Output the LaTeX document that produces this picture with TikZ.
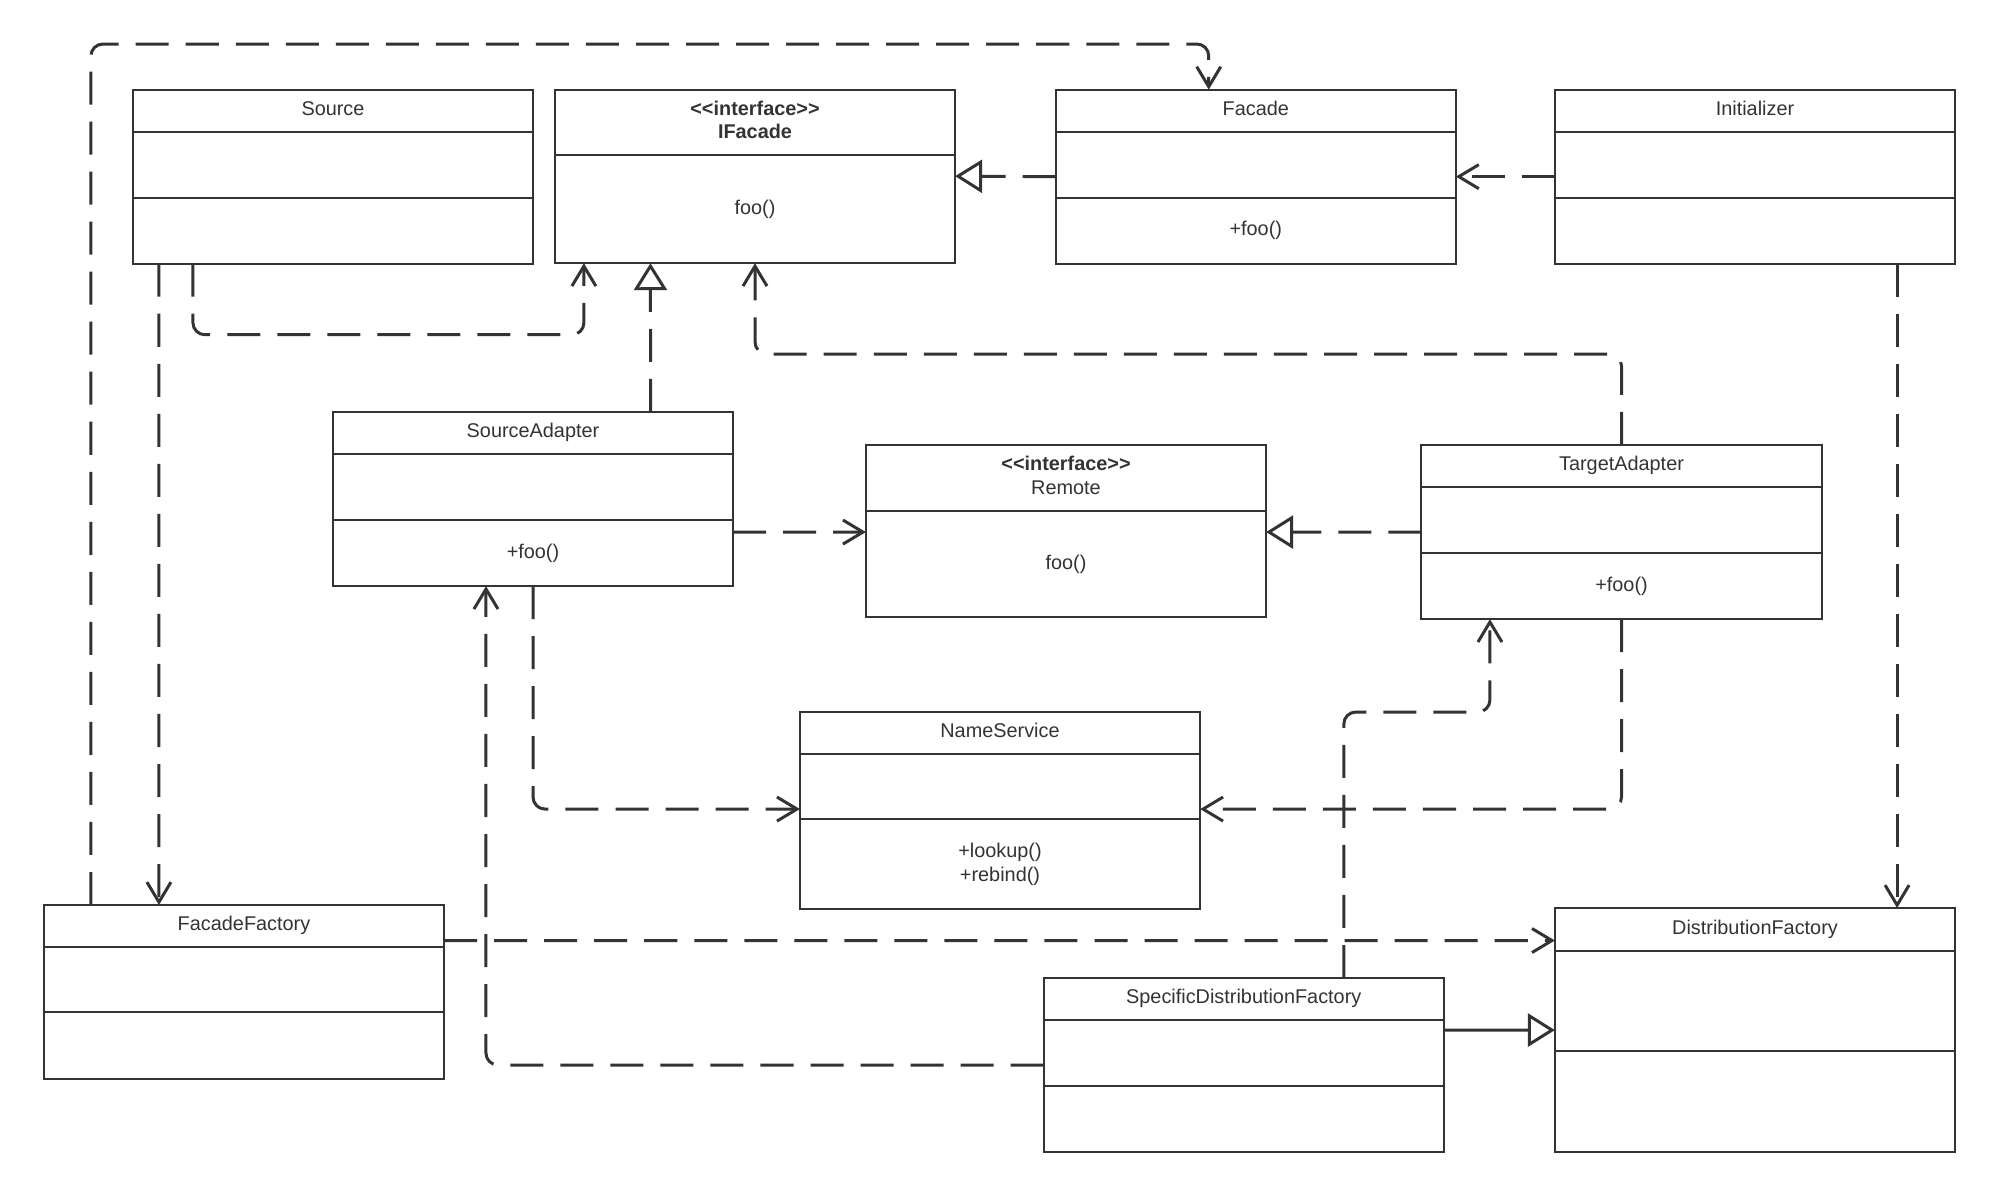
\documentclass[tikz,border=0pt]{standalone}
\usepackage{fontspec}
\newfontfamily\umlfont{Liberation Sans}
\usetikzlibrary{arrows.meta,positioning}
\definecolor{umlgray}{HTML}{333333}

\begin{document}
\begin{tikzpicture}[x=0.01cm, y=-0.01cm, node distance=0pt,
    every node/.style={font=\umlfont\fontsize{5.65}{6.75}\selectfont, text=umlgray},
    cbox/.style={draw=umlgray, line width=0.6pt, minimum width=4cm, inner sep=0pt, outer sep=0pt, align=center},
    cname/.style={cbox, minimum height=0.42cm, text depth=1.4pt},
    cattr/.style={cbox, minimum height=0.66cm},
    cops/.style={cbox, minimum height=0.66cm},
    dep/.style={draw=umlgray, line width=0.85pt, dash pattern=on 0.33cm off 0.17cm, rounded corners=0.12cm, -{Straight Barb[length=0.2cm, width=0.24cm]}},
    real/.style={dep, -{Triangle[open, length=0.27cm, width=0.33cm]}},
    gen/.style={real, solid}]
    \useasboundingbox (0,0) rectangle (2000,1196);

    % Nodes {Source, IFacade, Facade, Initializer}
    \node [cname, anchor=north] (src) at (333,89.6) {Source};
    \node [cattr, below=of src]   (src-a) {};
    \node [cops,  below=of src-a] (src-o) {};

    \node [cname, anchor=north, minimum height=0.655cm] (ifc) at (755,89.6) {\textbf{<<interface>>}\\ \textbf{IFacade}};
    \node [cops, below=of ifc, minimum height=1.08cm] (ifc-o) {foo()};

    \node [cname, anchor=north] (fac) at (1255.75,89.6) {Facade};
    \node [cattr, below=of fac]   (fac-a) {};
    \node [cops,  below=of fac-a] (fac-o) {+foo()};

    \node [cname, anchor=north] (ini) at (1755,89.6) {Initializer};
    \node [cattr, below=of ini]   (ini-a) {};
    \node [cops,  below=of ini-a] (ini-o) {};

    % Nodes {SourceAdapter, Remote, TargetAdapter, NameService}
    \node [cname, anchor=north] (sad) at (533,412) {SourceAdapter};
    \node [cattr, below=of sad]   (sad-a) {};
    \node [cops,  below=of sad-a] (sad-o) {+foo()};

    \node [cname, anchor=north, minimum height=0.66cm] (rem) at (1066,445) {\textbf{<<interface>>}\\ Remote};
    \node [cops, below=of rem, minimum height=1.06cm] (rem-o) {foo()};

    \node [cname, anchor=north] (tad) at (1621.5,445) {TargetAdapter};
    \node [cattr, below=of tad]   (tad-a) {};
    \node [cops,  below=of tad-a] (tad-o) {+foo()};

    \node [cname, anchor=north] (nsv) at (1000,712) {NameService};
    \node [cattr, below=of nsv, minimum height=0.65cm] (nsv-a) {};
    \node [cops,  below=of nsv-a, minimum height=0.9cm] (nsv-o) {+lookup()\\+rebind()};

    % Nodes {FacadeFactory, SpecificDistributionFactory, DistributionFactory}
    \node [cname, anchor=north] (ffc) at (244,905) {FacadeFactory};
    \node [cattr, below=of ffc, minimum height=0.65cm] (ffc-a) {};
    \node [cops,  below=of ffc-a, minimum height=0.67cm] (ffc-o) {};

    \node [cname, anchor=north] (sdf) at (1243.75,978) {SpecificDistributionFactory};
    \node [cattr, below=of sdf]   (sdf-a) {};
    \node [cops,  below=of sdf-a] (sdf-o) {};

    \node [cname, anchor=north, minimum height=0.43cm] (dfc) at (1755,908) {DistributionFactory};
    \node [cattr, below=of dfc, minimum height=1cm]    (dfc-a) {};
    \node [cops,  below=of dfc-a, minimum height=1.01cm] (dfc-o) {};

    % Paths
    \draw [dep] ([xshift=0.47cm]ffc.north west) -- ++(0,-861) -| ([xshift=1.53cm]fac.north west);
    \draw [dep] ([xshift=0.26cm]src-o.south west) -- ([xshift=1.15cm]ffc.north west);
    \draw [dep] ([xshift=0.6cm]src-o.south west) -- ++(0,71) -| ([xshift=0.29cm]ifc-o.south west);
    \draw [real] ([xshift=3.175cm]sad.north west) -- ([xshift=0.955cm]ifc-o.south west);
    \draw [real] ([yshift=-0.12cm]fac-a.west) -- ([yshift=-0.21cm]ifc-o.north east);
    \draw [dep] ([yshift=-0.12cm]ini-a.west) -- ([yshift=-0.12cm]fac-a.east);
    \draw [dep] ([xshift=3.42cm]ini-o.south west) -- ([xshift=3.42cm]dfc.north west);
    \draw [dep] (tad.north) -- ++(0,-91) -| (ifc-o.south);

    \draw [dep] ([yshift=-0.12cm]sad-o.north east) -- ([yshift=-0.21cm]rem-o.north west);
    \draw [real] ([yshift=0.21cm]tad-a.south west) -- ([yshift=-0.21cm]rem-o.north east);
    \draw [dep] (sad-o.south) |- ([yshift=0.1cm]nsv-a.south west);
    \draw [dep] (tad-o.south) |- ([yshift=0.1cm]nsv-a.south east);

    \draw [dep] ([xshift=3cm]sdf.north west) -- ++(0,-266) -| ([xshift=0.685cm]tad-o.south west);
    \draw [dep] ([yshift=0.21cm]sdf-a.south west) -| ([xshift=1.53cm]sad-o.south west);
    \draw [dep] ([yshift=0.065cm]ffc.south east) -- ([yshift=0.105cm]dfc.south west);
    \draw [gen] ([yshift=-0.1cm]sdf-a.north east) -- ([yshift=-0.29cm]dfc-a.west);
\end{tikzpicture}
\end{document}
